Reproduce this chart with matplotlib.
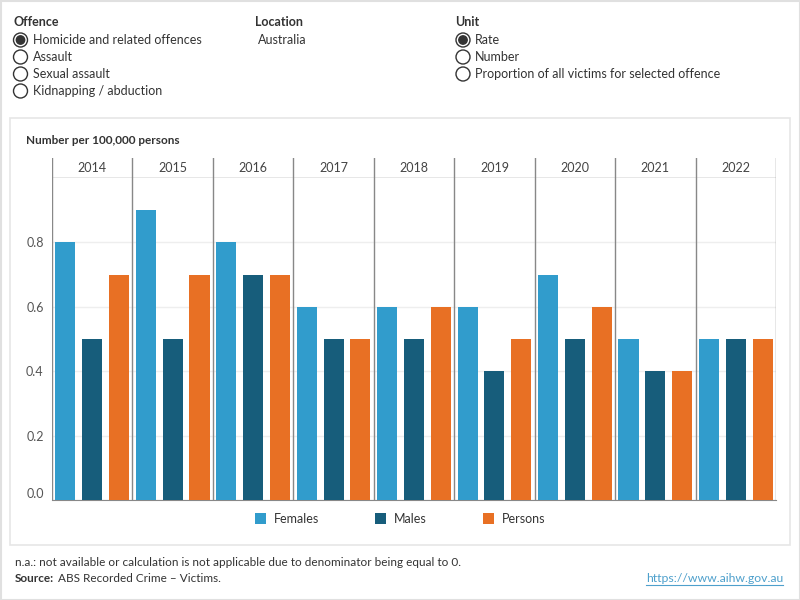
import matplotlib.pyplot as plt
from matplotlib.patches import Circle, Rectangle
import numpy as np

plt.rcParams['font.family'] = ['Lato', 'DejaVu Sans']

years = ['2014', '2015', '2016', '2017', '2018', '2019', '2020', '2021', '2022']
females = [0.8, 0.9, 0.8, 0.6, 0.6, 0.6, 0.7, 0.5, 0.5]
males = [0.5, 0.5, 0.7, 0.5, 0.5, 0.4, 0.5, 0.4, 0.5]
persons = [0.7, 0.7, 0.7, 0.5, 0.6, 0.5, 0.6, 0.4, 0.5]
series = ['Females', 'Males', 'Persons']
colors = ['#319ccc', '#175d7b', '#e87024']
yticks = [0.0, 0.2, 0.4, 0.6, 0.8]

offences = ['Homicide and related offences', 'Assault', 'Sexual assault',
            'Kidnapping / abduction']
units = ['Rate', 'Number', 'Proportion of all victims for selected offence']

txt = '#333333'
fig = plt.figure(figsize=(8, 6), dpi=100)

# overlay in pixel coordinates for the frame, filters and footer
ov = fig.add_axes([0, 0, 1, 1], zorder=0)
ov.set_xlim(0, 800)
ov.set_ylim(600, 0)
ov.axis('off')
ov.add_patch(Rectangle((0.5, 0.5), 799, 599, fill=False, ec='#e0e0e0', lw=1.5))
ov.add_patch(Rectangle((10, 118), 780, 427, fill=False, ec='#e6e6e6', lw=1.2))

ov.text(13, 22, 'Offence', fontsize=9, fontweight='bold', color=txt, va='center')
for i, name in enumerate(offences):
    y = 40 + 17 * i
    ov.add_patch(Circle((20.5, y), 7, fill=False, ec='#333333', lw=1))
    if i == 0:
        ov.add_patch(Circle((20.5, y), 4.2, color='#333333'))
    ov.text(33, y, name, fontsize=9, color=txt, va='center')

ov.text(255, 22, 'Location', fontsize=9, fontweight='bold', color=txt, va='center')
ov.text(258, 40, 'Australia', fontsize=9, color=txt, va='center')

ov.text(455, 22, 'Unit', fontsize=9, fontweight='bold', color=txt, va='center')
for i, name in enumerate(units):
    y = 40 + 17 * i
    ov.add_patch(Circle((463, y), 7, fill=False, ec='#333333', lw=1))
    if i == 0:
        ov.add_patch(Circle((463, y), 4.2, color='#333333'))
    ov.text(475, y, name, fontsize=9, color=txt, va='center')

ov.text(26, 140, 'Number per 100,000 persons', fontsize=8.5, fontweight='bold',
        color=txt, va='center')

ov.text(15, 562, 'n.a.: not available or calculation is not applicable due to '
        'denominator being equal to 0.', fontsize=8.5, color=txt, va='center')
ov.text(15, 578, 'Source:', fontsize=8.5, fontweight='bold', color=txt, va='center')
ov.text(58, 578, 'ABS Recorded Crime – Victims.', fontsize=8.5, color=txt, va='center')
link = ov.text(783, 578, 'https://www.aihw.gov.au', fontsize=8.8, color='#4ea0cc',
               va='center', ha='right')

# main chart
ax = fig.add_axes([52 / 800, 1 - 500 / 600, 724 / 800, 322 / 600], zorder=2)
ax.patch.set_alpha(0)
x = np.arange(len(years))
offs = [1 / 6, 1 / 2, 5 / 6]
bars = []
for vals, off, c, lab in zip([females, males, persons], offs, colors, series):
    bars.append(ax.bar(x + off, vals, width=0.25, color=c, label=lab, zorder=3))

ax.set_xlim(0, len(years))
ax.set_ylim(0, 1.0)
ax.set_yticks(yticks)
ax.set_yticklabels([f'{v:.1f}' for v in yticks], fontsize=9, color='#555555')
ax.get_yticklabels()[0].set_va('bottom')
ax.set_xticks([])
ax.tick_params(axis='y', length=0, pad=6)
ax.grid(axis='y', color='#eeeeee', lw=1, zorder=0)
for s in ['top', 'right', 'left']:
    ax.spines[s].set_visible(False)
ax.spines['bottom'].set_color('#888888')
for i in range(len(years) + 1):
    ax.axvline(i, color='#888888', lw=1, zorder=4)

# header row with years
hd = fig.add_axes([52 / 800, 1 - 178 / 600, 724 / 800, 20 / 600], zorder=2)
hd.set_xlim(0, len(years))
hd.set_ylim(0, 1)
hd.axis('off')
hd.axhline(0, color='#888888', lw=1)
for i, yr in enumerate(years):
    hd.axvline(i, color='#888888', lw=1)
    hd.text(i + 0.5, 0.5, yr, ha='center', va='center', fontsize=9, color='#444444')
hd.axvline(len(years), color='#888888', lw=1)

fig.legend(handles=bars, labels=series, loc='center', ncol=3,
           bbox_to_anchor=(0.5, 1 - 519 / 600), frameon=False, fontsize=9,
           handlelength=0.9, handleheight=1.0, handletextpad=0.6,
           columnspacing=4.5, labelcolor=txt)

# underline the link to its drawn width
fig.canvas.draw()
bb = link.get_window_extent()
x0 = bb.x0 / fig.bbox.width * 800
ov.plot([x0, 783], [585, 585], color='#4ea0cc', lw=0.8)

fig.savefig('out.png', dpi=100)
